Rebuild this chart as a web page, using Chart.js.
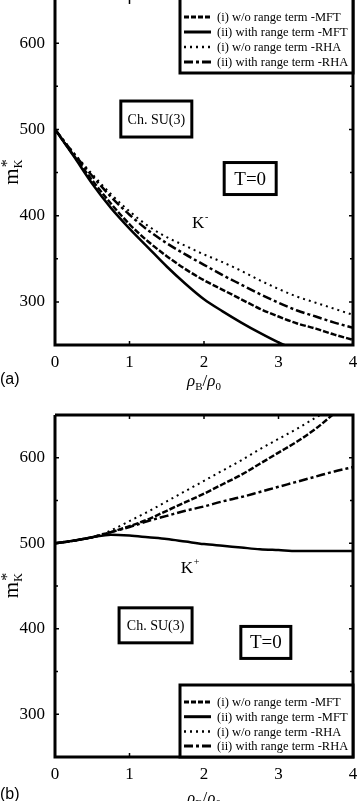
<!DOCTYPE html>
<html>
<head>
<meta charset="utf-8">
<script src="https://cdn.jsdelivr.net/npm/chart.js@4.4.1/dist/chart.umd.min.js"></script>
<style>
body{margin:0;background:#fff;width:357px;height:801px;overflow:hidden;position:relative}
.wrap{position:absolute;left:0;width:357px}
#wa{top:0;height:400px}
#wb{top:400px;height:401px}
</style>
</head>
<body>
<div class="wrap" id="wa"><canvas id="ca" width="357" height="400"></canvas></div>
<div class="wrap" id="wb"><canvas id="cb" width="357" height="401"></canvas></div>
<script>
// density rho_B/rho_0
const rho = [0,0.25,0.5,0.75,1,1.25,1.5,1.75,2,2.25,2.5,2.75,3,3.25,3.5,3.75,4]

// K- effective mass (panel a)
const kmMftI  = [500,470,441,414,390,370,353,338,325,314,303,292,283,275,269,262,256]
const kmMftII = [500,469,437,409,385,363,341,321,303,289,276,264,253,244,236,229,223]
const kmRhaI  = [500,473,448,425,405,388,375,365,355,346,336,325,315,306,299,292,285]
const kmRhaII = [500,472,446,422,401,383,368,355,343,331,320,309,299,290,283,276,270]

// K+ effective mass (panel b)
const kpMftI  = [500,503,507,513,520,528,538,548,558,569,580,593,606,619,634,652,670]
const kpMftII = [500,503,507,510,509,507,505,502,499,497,495,493,492,491,491,491,491]
const kpRhaI  = [500,503,507,515,526,537,549,561,573,585,597,610,622,634,647,660,673]
const kpRhaII = [500,503,507,513,519,526,532,538,543,549,554,560,566,572,578,584,589]

const labels = [
"(i) w/o range term -MFT",
"(ii) with range term -MFT",
"(i) w/o range term -RHA",
"(ii) with range term -RHA"
]

const xTicks = [0,1,2,3,4]
const yTicks = [300,400,500,600]

const lineStyles = [
{borderDash:[6,2],borderWidth:2.5},
{borderDash:[],borderWidth:2.5},
{borderDash:[2,4],borderWidth:2},
{borderDash:[9,3,3,3],borderWidth:2.5}
]

function makeSets(series){
return series.map((s,i)=>({
label:labels[i],
data:rho.map((r,j)=>({x:r,y:s[j]})),
borderColor:"#000",
borderDash:lineStyles[i].borderDash,
borderWidth:lineStyles[i].borderWidth,
pointRadius:0,
fill:false,
cubicInterpolationMode:"monotone"
}))
}

const serif = "'Liberation Serif','DejaVu Serif',serif"

const deco = {
id:"deco",
afterDatasetsDraw(chart){
const o = chart.options.plugins.deco
const ctx = chart.ctx
const a = chart.chartArea
const sx = chart.scales.x
const sy = chart.scales.y
ctx.save()
ctx.strokeStyle = "#000"
ctx.setLineDash([])

// inner tick marks
ctx.lineWidth = 1.5
ctx.beginPath()
xTicks.slice(1,-1).forEach(v=>{
const p = sx.getPixelForValue(v)
ctx.moveTo(p,a.bottom); ctx.lineTo(p,a.bottom-4)
ctx.moveTo(p,a.top); ctx.lineTo(p,a.top+4)
})
for(let v=300;v<650;v+=50){
const p = sy.getPixelForValue(v)
const len = v%100===0 ? 4 : 3
ctx.moveTo(a.left,p); ctx.lineTo(a.left+len,p)
ctx.moveTo(a.right,p); ctx.lineTo(a.right-len,p)
}
ctx.stroke()

// frame
ctx.lineWidth = 3
ctx.beginPath()
ctx.moveTo(a.left,a.top); ctx.lineTo(a.left,a.bottom); ctx.lineTo(a.right,a.bottom); ctx.lineTo(a.right,a.top)
if(o.frameTop){ ctx.lineTo(a.left,a.top) }
ctx.stroke()

// legend box
const lb = o.legend
ctx.fillStyle = "#fff"
ctx.fillRect(lb.x,lb.y,lb.w,lb.h)
ctx.lineWidth = 3
ctx.strokeRect(lb.x,lb.y,lb.w,lb.h)
chart.data.datasets.forEach((d,i)=>{
const yy = lb.y + lb.first + i*lb.step
ctx.beginPath()
ctx.setLineDash(i===0?[5,2]:d.borderDash)
ctx.lineWidth = i===1 ? 3 : d.borderWidth + 0.5
ctx.moveTo(lb.x+4,yy); ctx.lineTo(lb.x+31,yy)
ctx.stroke()
ctx.setLineDash([])
ctx.fillStyle = "#000"
ctx.font = "12.5px " + serif
ctx.textBaseline = "middle"
ctx.textAlign = "left"
ctx.fillText(d.label,lb.x+37,yy+1)
})

// text boxes
o.boxes.forEach(b=>{
const cx = sx.getPixelForValue(b.x)
const cy = sy.getPixelForValue(b.y)
ctx.lineWidth = 3
ctx.strokeRect(cx-b.w/2,cy-b.h/2,b.w,b.h)
ctx.fillStyle = "#000"
ctx.font = b.size + "px " + serif
ctx.textAlign = "center"
ctx.textBaseline = "middle"
ctx.fillText(b.text,cx,cy+1)
})

// kaon label
const kx = sx.getPixelForValue(o.kaon.x)
const ky = sy.getPixelForValue(o.kaon.y)
ctx.font = "17px " + serif
ctx.textAlign = "left"
ctx.textBaseline = "alphabetic"
ctx.fillText("K",kx-6,ky+6)
ctx.font = "10px " + serif
ctx.fillText(o.kaon.sign,kx+7,ky-2)

// y title  m*_K
const ty = sy.getPixelForValue(450)
ctx.save()
ctx.translate(13,ty)
ctx.rotate(-Math.PI/2)
ctx.font = "21px " + serif
const mw = ctx.measureText("m").width
ctx.fillText("m",-mw/2-4,5)
ctx.font = "12px " + serif
ctx.fillText("K",mw/2-4,9)
ctx.font = "16px " + serif
ctx.fillText("*",mw/2-3,-1)
ctx.restore()

// x title  rho_B/rho_0
const parts = [["ρ","italic 17px",0],["B","11px",4],["/","17px",0],["ρ","italic 17px",0],["0","11px",4]]
let total = 0
parts.forEach(p=>{ctx.font=p[1]+" "+serif; total+=ctx.measureText(p[0]).width})
let px = (a.left+a.right)/2 - total/2
const by = a.bottom + o.titleGap
ctx.textAlign = "left"
parts.forEach(p=>{
ctx.font = p[1]+" "+serif
ctx.fillText(p[0],px,by+p[2])
px += ctx.measureText(p[0]).width
})

// panel label
ctx.font = "16px 'Liberation Sans',Arial,sans-serif"
ctx.textBaseline = "middle"
ctx.fillText(o.panel,0,a.bottom+o.panelGap)
ctx.restore()
}
}

function makeChart(id,series,padTop,xHeight,deco_){
return new Chart(document.getElementById(id),{
type:"line",
data:{datasets:makeSets(series)},
plugins:[deco],
options:{
responsive:false,
animation:false,
devicePixelRatio:1,
layout:{autoPadding:false,padding:{left:0,right:4,top:padTop,bottom:0}},
plugins:{legend:{display:false},tooltip:{enabled:false},deco:deco_},
scales:{
x:{
type:"linear",min:0,max:4,
grid:{display:false,drawTicks:false},
border:{display:false},
afterBuildTicks:s=>{s.ticks=xTicks.map(v=>({value:v}))},
afterFit:s=>{s.height=xHeight;s.paddingLeft=0;s.paddingRight=0},
ticks:{color:"#000",padding:7,maxRotation:0,autoSkip:false,font:{family:serif,size:17}}
},
y:{
min:250,max:650,
grid:{display:false,drawTicks:false},
border:{display:false},
afterBuildTicks:s=>{s.ticks=yTicks.map(v=>({value:v}))},
afterFit:s=>{s.width=55;s.paddingTop=0;s.paddingBottom=0},
ticks:{color:"#000",padding:10,font:{family:serif,size:17}}
}
}
}
})
}

makeChart("ca",[kmMftI,kmMftII,kmRhaI,kmRhaII],0,55,{
frameTop:false,
legend:{x:180,y:-2,w:173,h:75,first:19,step:15},
boxes:[{text:"Ch. SU(3)",x:1.36,y:512,w:71,h:36,size:14},{text:"T=0",x:2.62,y:443,w:52,h:32,size:19}],
kaon:{x:1.92,y:393,sign:"-"},
titleGap:41,
panelGap:35,
panel:"(a)"
})

makeChart("cb",[kpMftI,kpMftII,kpRhaI,kpRhaII],15,44,{
frameTop:true,
legend:{x:180,y:285,w:173,h:72,first:17,step:14.7},
boxes:[{text:"Ch. SU(3)",x:1.35,y:404,w:73,h:35,size:14},{text:"T=0",x:2.83,y:384,w:50,h:32,size:19}],
kaon:{x:1.77,y:472,sign:"+"},
titleGap:46,
panelGap:38,
panel:"(b)"
})
</script>
</body>
</html>
